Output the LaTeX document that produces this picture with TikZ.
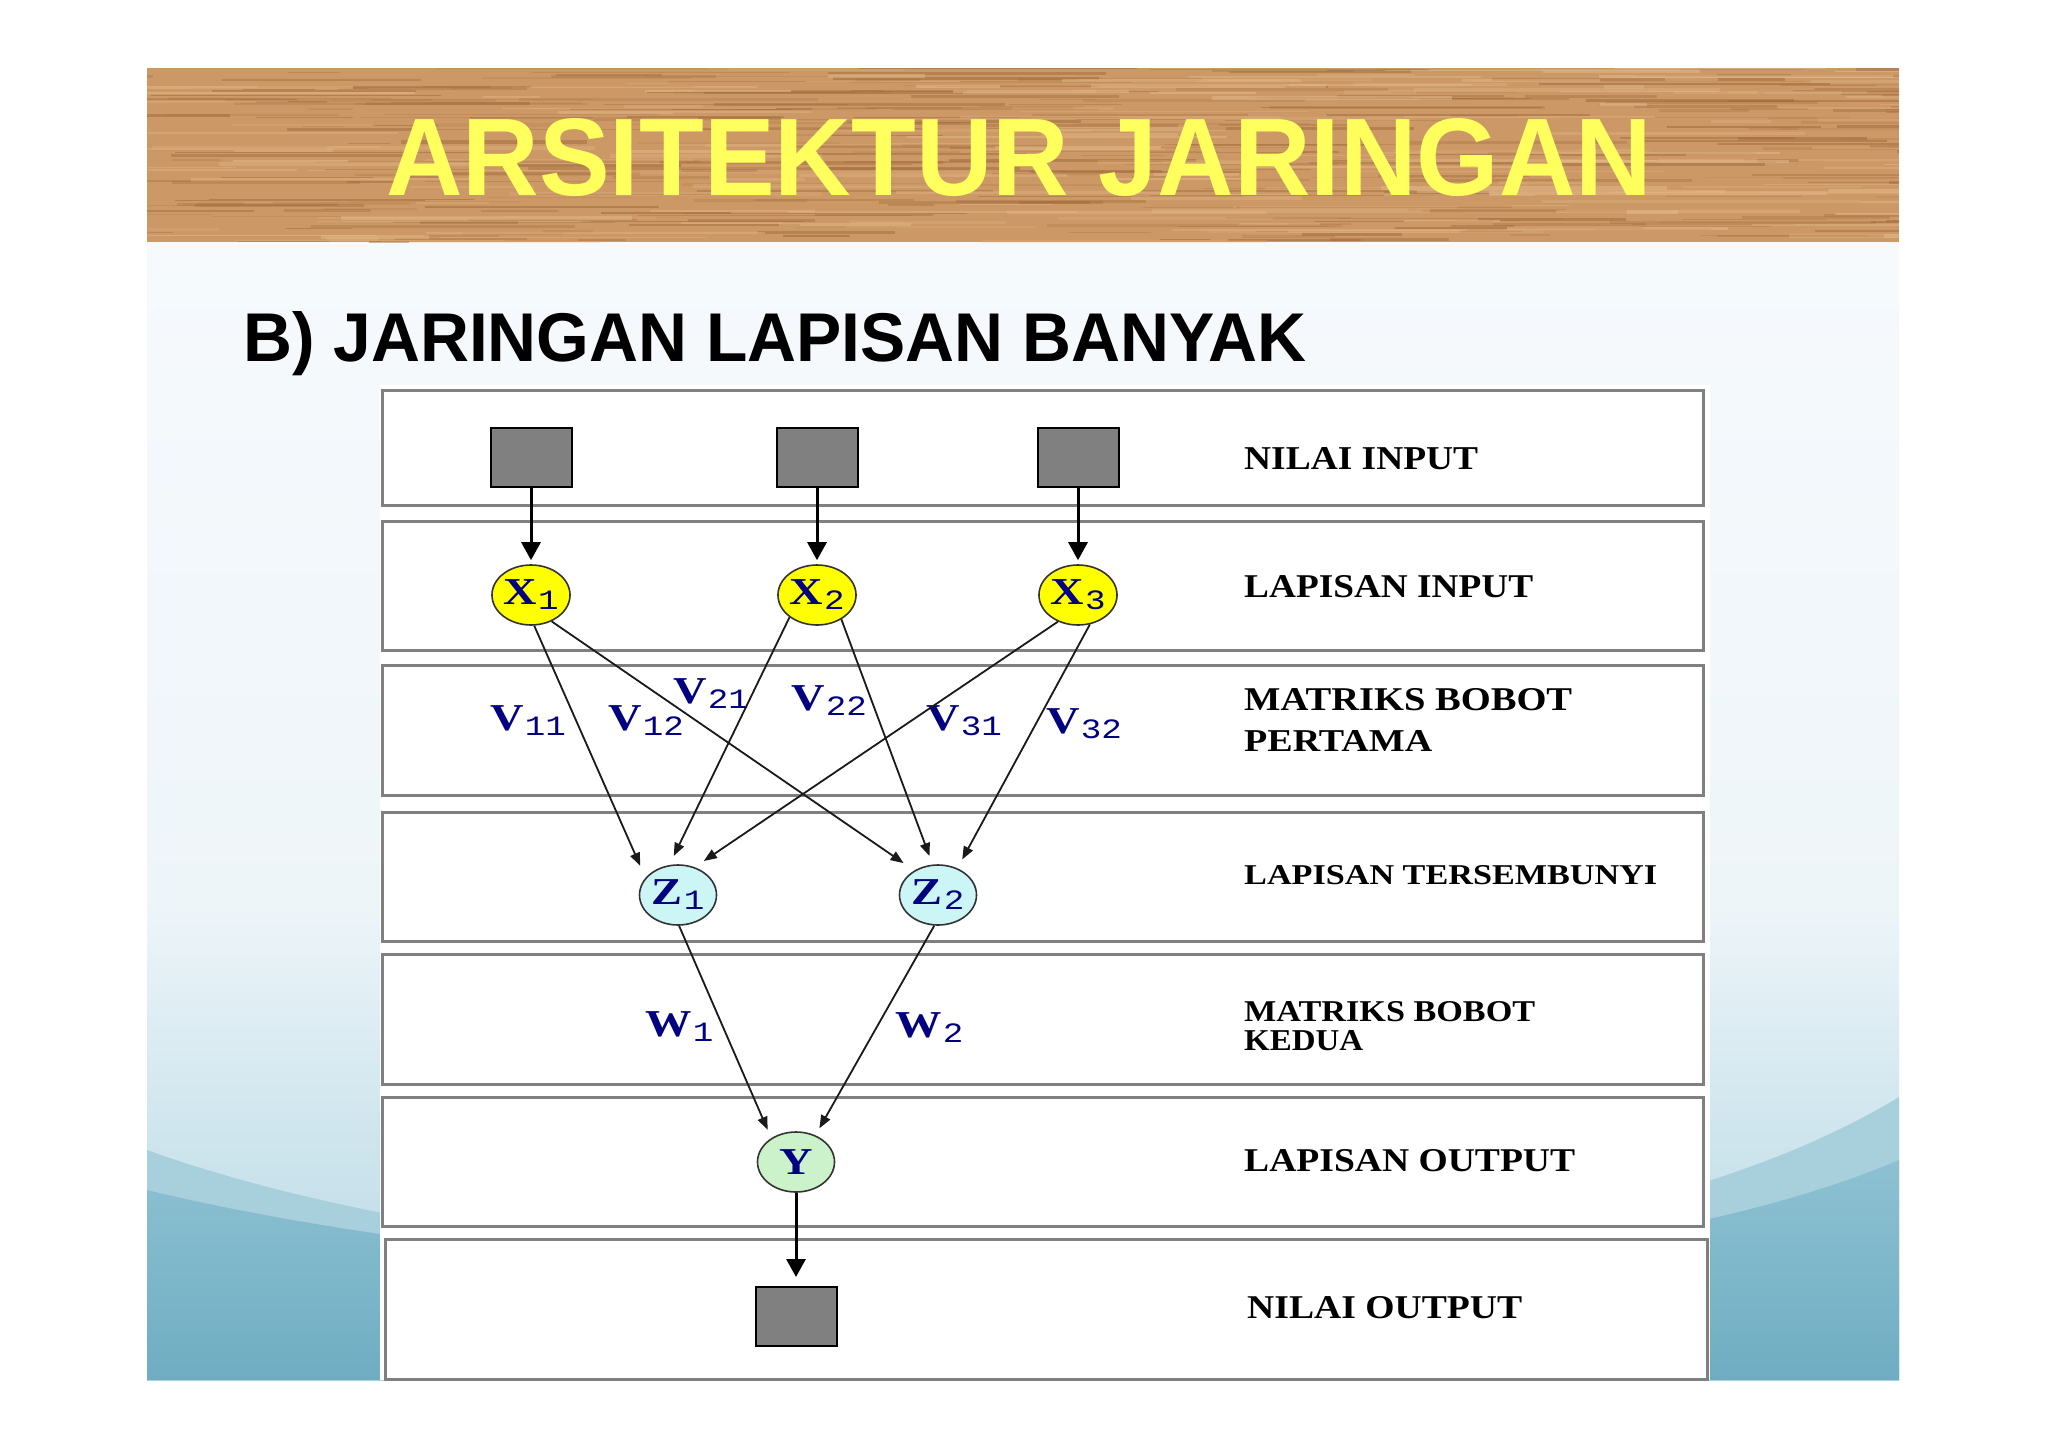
\documentclass[tikz,border=0pt]{standalone}
\usepackage{fontspec}
\usepackage{graphicx}
\usetikzlibrary{shapes.geometric,arrows.meta}
\newfontfamily\arialf{Liberation Sans}
\newfontfamily\timesf{Liberation Serif}
\newfontfamily\courf{Liberation Mono}
\definecolor{wood}{HTML}{CC9966}
\definecolor{wooddark}{HTML}{A0693A}
\definecolor{woodlight}{HTML}{E2B888}
\definecolor{titley}{HTML}{FFFF5E}
\definecolor{bgA}{HTML}{F6FAFD}
\definecolor{bgB}{HTML}{EEF5F9}
\definecolor{bgC}{HTML}{D2E7EF}
\definecolor{bgD}{HTML}{B3D6E1}
\definecolor{waveA}{HTML}{A8CFDC}
\definecolor{waveBa}{HTML}{8DC1D2}
\definecolor{waveBb}{HTML}{6FADC2}
\definecolor{boxgray}{HTML}{808080}
\definecolor{sqgray}{HTML}{808080}
\definecolor{wnavy}{HTML}{000080}
\definecolor{xyel}{HTML}{FFFF00}
\definecolor{zcyan}{HTML}{CCF5F5}
\definecolor{ygreen}{HTML}{CCF2CC}
\definecolor{linek}{HTML}{1A1A1A}
\pgfdeclareverticalshading{slidebg}{100bp}{color(0bp)=(bgD); color(25bp)=(bgD); color(37bp)=(bgC); color(46bp)=(bgB); color(75bp)=(bgA); color(100bp)=(bgA)}
\newcommand\wlab[2]{\scalebox{1.22}[1]{\timesf\bfseries\fontsize{38}{38}\selectfont #1\kern1pt\raisebox{-5pt}{\courf\mdseries\fontsize{28}{28}\selectfont #2}}}
\newcommand\rlab[3]{\resizebox{#1pt}{#2pt}{\timesf\bfseries\fontsize{30}{30}\selectfont #3}}
\begin{document}
\begin{tikzpicture}[x=1pt,y=-1pt,
  gbox/.style={draw=boxgray, line width=2.5pt, fill=white, rectangle, inner sep=0, anchor=north west},
  sqbox/.style={draw=black, line width=2pt, fill=sqgray, rectangle, minimum width=81pt, minimum height=59pt, inner sep=0},
  neur/.style={ellipse, draw=black!80, line width=1.6pt, minimum width=77pt, minimum height=60pt, inner sep=0, text=wnavy},
  xn/.style={neur, fill=xyel},
  zn/.style={neur, fill=zcyan},
  yn/.style={neur, fill=ygreen},
  bigarrow/.style={-{Triangle[width=19pt,length=18pt]}, line width=3pt, draw=black},
  smallarrow/.style={-{Triangle[width=10pt,length=13pt]}, line width=1.8pt, draw=linek},
  lbl/.style={anchor=base west, inner sep=0},
  wt/.style={anchor=base west, inner sep=0, text=wnavy}]
\useasboundingbox (0,0) rectangle (2048,1448);
\fill[white] (0,0) rectangle (2048,1448);
% slide background
\path[shading=slidebg] (147,242) rectangle (1899,1380);
\fill[waveA] (147,1150) .. controls (560,1300) and (1500,1340) .. (1899,1097) -- (1899,1380) -- (147,1380) -- cycle;
\shade[top color=waveBa, bottom color=waveBb] (147,1190) .. controls (600,1300) and (1500,1330) .. (1899,1160) -- (1899,1380) -- (147,1380) -- cycle;
% wood band
\begin{scope}
\clip (147,68) rectangle (1899,242);
\fill[wood] (147,68) rectangle (1899,242);
\pgfmathsetseed{4242}
\foreach \i in {1,...,320}{
  \pgfmathsetmacro\yy{68+174*rnd}
  \pgfmathsetmacro\xx{47+1852*rnd}
  \pgfmathsetmacro\ll{40+260*rnd}
  \pgfmathsetmacro\ww{0.8+2.5*rnd}
  \pgfmathsetmacro\oo{0.15+0.4*rnd}
  \draw[wooddark, line width=\ww pt, opacity=\oo] (\xx,\yy) -- ++(\ll,0);
}
\foreach \i in {1,...,160}{
  \pgfmathsetmacro\yy{68+174*rnd}
  \pgfmathsetmacro\xx{47+1852*rnd}
  \pgfmathsetmacro\ll{40+300*rnd}
  \pgfmathsetmacro\ww{1+3*rnd}
  \pgfmathsetmacro\oo{0.2+0.4*rnd}
  \draw[woodlight, line width=\ww pt, opacity=\oo] (\xx,\yy) -- ++(\ll,0);
}
\end{scope}
% titles
\node[lbl, text=titley] (title) at (386,195) {\resizebox{1266pt}{77pt}{\arialf\bfseries\fontsize{100}{100}\selectfont ARSITEKTUR JARINGAN}};
\node[lbl, text=black] (sub) at (243,361) {\resizebox{1063pt}{50pt}{\arialf\bfseries\fontsize{72}{72}\selectfont B) JARINGAN LAPISAN BANYAK}};
% panel
\fill[white] (380,385) rectangle (1710,1380);
% rows
\node[gbox, minimum width=1321pt, minimum height=115pt] (r1) at (381,389) {};
\node[gbox, minimum width=1321pt, minimum height=129pt] (r2) at (381,520) {};
\node[gbox, minimum width=1321pt, minimum height=130pt] (r3) at (381,664) {};
\node[gbox, minimum width=1321pt, minimum height=129pt] (r4) at (381,811) {};
\node[gbox, minimum width=1321pt, minimum height=130pt] (r5) at (381,953) {};
\node[gbox, minimum width=1321pt, minimum height=129pt] (r6) at (381,1096) {};
\node[gbox, minimum width=1322pt, minimum height=140pt] (r7) at (384,1238) {};
% row labels
\node[lbl] (l1) at (1244,469) {\rlab{234}{22}{NILAI INPUT}};
\node[lbl] (l2) at (1244,597) {\rlab{289}{22}{LAPISAN INPUT}};
\node[lbl] (l3a) at (1244,710) {\rlab{328}{22}{MATRIKS BOBOT}};
\node[lbl] (l3b) at (1244,751) {\rlab{188}{21}{PERTAMA}};
\node[lbl] (l4) at (1244,884) {\rlab{413}{19}{LAPISAN TERSEMBUNYI}};
\node[lbl] (l5a) at (1244,1021) {\rlab{291}{20}{MATRIKS BOBOT}};
\node[lbl] (l5b) at (1244,1050) {\rlab{119}{20}{KEDUA}};
\node[lbl] (l6) at (1244,1171) {\rlab{331}{22}{LAPISAN OUTPUT}};
\node[lbl] (l7) at (1247,1318) {\rlab{275}{22}{NILAI OUTPUT}};
% weight labels
\node[wt] (v11) at (490,730) {\wlab{V}{11}};
\node[wt] (v12) at (608,730) {\wlab{V}{12}};
\node[wt] (v21) at (673,703) {\wlab{V}{21}};
\node[wt] (v22) at (791,710) {\wlab{V}{22}};
\node[wt] (v31) at (926,730) {\wlab{V}{31}};
\node[wt] (v32) at (1046,733) {\wlab{V}{32}};
\node[wt] (w1) at (645,1036) {\wlab{W}{1}};
\node[wt] (w2) at (895,1037) {\wlab{W}{2}};
% squares
\node[sqbox] (s1) at (531,457.5) {};
\node[sqbox] (s2) at (817,457.5) {};
\node[sqbox] (s3) at (1078,457.5) {};
\node[sqbox] (so) at (796,1316.5) {};
% neurons
\node[xn] (X1) at (531,595) {\wlab{X}{1}};
\node[xn] (X2) at (817,595) {\wlab{X}{2}};
\node[xn] (X3) at (1078,595) {\wlab{X}{3}};
\node[zn] (Z1) at (678,895) {\wlab{Z}{1}};
\node[zn] (Z2) at (938,895) {\wlab{Z}{2}};
\node[yn] (Y) at (796,1162) {\scalebox{1.22}[1]{\timesf\bfseries\fontsize{38}{38}\selectfont Y}};
% thick arrows
\draw[bigarrow, shorten >=4pt] (s1.south) -- (X1.north);
\draw[bigarrow, shorten >=4pt] (s2.south) -- (X2.north);
\draw[bigarrow, shorten >=4pt] (s3.south) -- (X3.north);
\draw[bigarrow, shorten >=9pt] (Y.south) -- (so.north);
% thin arrows
\draw[smallarrow, shorten >=13pt] (X1.-84) -- (Z1.152.5);
\draw[smallarrow, shorten >=10pt] (X2.-141.6) -- (Z1.106);
\draw[smallarrow, shorten >=11pt] (X3.-127) -- (Z1.59.5);
\draw[smallarrow, shorten >=13pt] (X1.-52) -- (Z2.134);
\draw[smallarrow, shorten >=9pt] (X2.-45) -- (Z2.100.6);
\draw[smallarrow, shorten >=10pt] (X3.-68) -- (Z2.54.5);
\draw[smallarrow, shorten >=9pt] (Z1.-88) -- (Y.136);
\draw[smallarrow, shorten >=8pt] (Z2.-97) -- (Y.54.7);
\end{tikzpicture}
\end{document}
